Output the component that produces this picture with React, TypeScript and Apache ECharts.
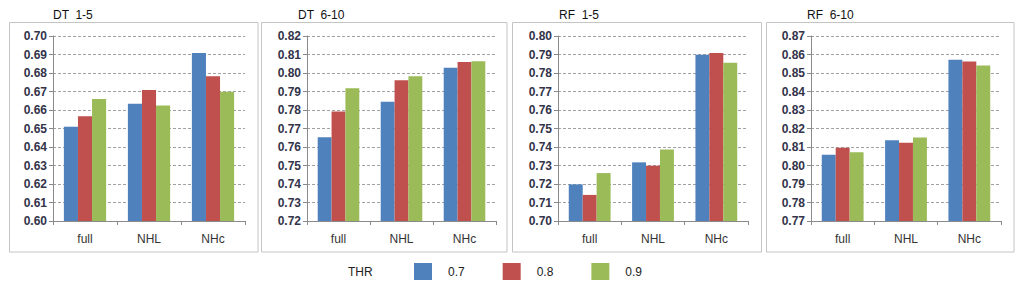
import React, { useEffect, useRef } from "react";
import * as echarts from "echarts";

const categories = ["full", "NHL", "NHc"];
const thresholds = ["0.7", "0.8", "0.9"];
const panelTitles = ["DT  1-5", "DT  6-10", "RF  1-5", "RF  6-10"];
const yMins = [0.6, 0.72, 0.7, 0.77];
const yMaxs = [0.7, 0.82, 0.8, 0.87];

// values per panel: [thr0.7, thr0.8, thr0.9] x categories
const dt15_07 = [0.651, 0.6634, 0.6908];
const dt15_08 = [0.6566, 0.6708, 0.6782];
const dt15_09 = [0.6659, 0.6625, 0.6699];
const dt610_07 = [0.7653, 0.7844, 0.8029];
const dt610_08 = [0.7792, 0.7961, 0.806];
const dt610_09 = [0.7918, 0.7982, 0.8063];
const rf15_07 = [0.7198, 0.7317, 0.7899];
const rf15_08 = [0.7141, 0.7299, 0.7908];
const rf15_09 = [0.7259, 0.7386, 0.7856];
const rf610_07 = [0.8058, 0.8137, 0.8572];
const rf610_08 = [0.8096, 0.8123, 0.8562];
const rf610_09 = [0.8071, 0.8151, 0.854];

const panelData = [
  [dt15_07, dt15_08, dt15_09],
  [dt610_07, dt610_08, dt610_09],
  [rf15_07, rf15_08, rf15_09],
  [rf610_07, rf610_08, rf610_09],
];

const colors = ["#4F81BD", "#C0504D", "#9BBB59"];

const grids = [
  { left: 53, width: 192 },
  { left: 307, width: 189 },
  { left: 558, width: 190 },
  { left: 811, width: 190 },
];
const frames = [
  { x: 9.5, w: 248.5 },
  { x: 261.5, w: 245.5 },
  { x: 512.5, w: 249 },
  { x: 766.5, w: 247.5 },
];
const titleX = [53, 298, 559, 807];

export default function App() {
  const ref = useRef<HTMLDivElement>(null);
  useEffect(() => {
    if (!ref.current) return;
    const chart = echarts.init(ref.current, null, { renderer: "svg" });
    const series: any[] = [];
    panelData.forEach((pd, p) => {
      pd.forEach((vals, t) => {
        series.push({
          type: "bar",
          name: thresholds[t],
          xAxisIndex: p,
          yAxisIndex: p,
          data: vals,
          barGap: "0%",
          barCategoryGap: "34%",
          itemStyle: { color: colors[t] },
        });
      });
    });
    const graphic: any[] = [];
    frames.forEach((f) => {
      graphic.push({
        type: "rect",
        shape: { x: f.x, y: 22.5, width: f.w, height: 229.5 },
        style: { fill: "none", stroke: "#c4c4c4", lineWidth: 1 },
        z: -1,
      });
    });
    panelTitles.forEach((t, i) => {
      graphic.push({
        type: "text",
        x: titleX[i],
        y: 15,
        style: {
          text: t,
          font: "12px Arial, 'Liberation Sans', sans-serif",
          fill: "#111",
          verticalAlign: "middle",
        },
      });
    });
    graphic.push({
      type: "text",
      x: 348,
      y: 272,
      style: {
        text: "THR",
        font: "12px Arial, 'Liberation Sans', sans-serif",
        fill: "#222",
        verticalAlign: "middle",
      },
    });
    chart.setOption({
      animation: false,
      backgroundColor: "#fff",
      grid: grids.map((g) => ({ left: g.left, width: g.width, top: 36, height: 185 })),
      xAxis: grids.map((_, i) => ({
        type: "category",
        gridIndex: i,
        data: categories,
        axisLine: { lineStyle: { color: "#8a8a8a" } },
        axisTick: { show: true, length: 4, alignWithLabel: false, lineStyle: { color: "#8a8a8a" } },
        axisLabel: {
          margin: 12,
          fontSize: 12,
          color: "#333",
          fontFamily: "Arial, 'Liberation Sans', sans-serif",
        },
      })),
      yAxis: grids.map((_, i) => ({
        type: "value",
        gridIndex: i,
        min: yMins[i],
        max: yMaxs[i],
        interval: 0.01,
        axisLine: { show: true, lineStyle: { color: "#8a8a8a" } },
        axisTick: { show: true, length: 4, lineStyle: { color: "#8a8a8a" } },
        axisLabel: {
          margin: 6,
          fontSize: 12,
          fontWeight: "bold",
          color: "#33334a",
          fontFamily: "Arial, 'Liberation Sans', sans-serif",
          formatter: (v: number) => v.toFixed(2),
        },
        splitLine: { show: true, lineStyle: { color: "#a0a0a0", type: [3, 2] } },
      })),
      legend: {
        data: thresholds,
        left: 414,
        top: 263,
        padding: 0,
        itemWidth: 18,
        itemHeight: 17,
        itemGap: 38,
        icon: "rect",
        textStyle: {
          fontSize: 12,
          color: "#222",
          fontFamily: "Arial, 'Liberation Sans', sans-serif",
          padding: [0, 0, 0, 11],
        },
      },
      graphic,
      series,
    });
    return () => chart.dispose();
  }, []);
  return (
    <div
      ref={ref}
      style={{ position: "fixed", left: 0, top: 0, width: 1024, height: 290 }}
    />
  );
}
